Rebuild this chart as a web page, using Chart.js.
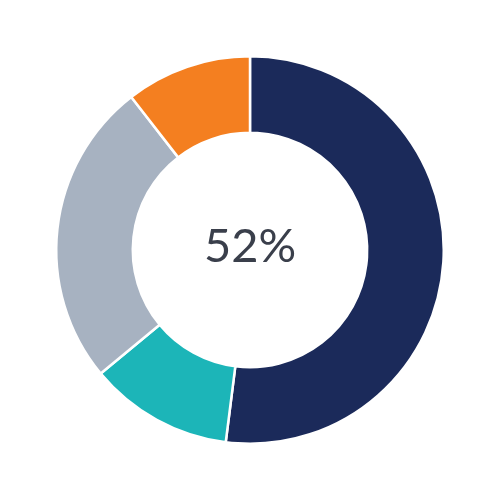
<!DOCTYPE html>
<html><head><meta charset="utf-8">
<script src="https://cdn.jsdelivr.net/npm/chart.js@4"></script>
<style>html,body{margin:0;padding:0;background:#fff}#wrap{position:relative;width:500px;height:500px}
#center{position:absolute;left:0;top:-6px;width:500px;height:500px;display:flex;align-items:center;justify-content:center;font-family:Lato,sans-serif;font-size:47px;color:#3a3f4b;pointer-events:none}</style>
</head><body>
<div id="wrap"><canvas id="c" width="500" height="500"></canvas><div id="center"></div></div>
<script>
const labels = ["A", "B", "C", "D"];
const values = [52, 12, 25.5, 10.5];
const colors = ["#1b2a5a", "#1cb5b8", "#a7b2c1", "#f47f20"];
const centerLabel = "52%";
document.getElementById('center').textContent = centerLabel;
new Chart(document.getElementById('c'), {
  type: 'doughnut',
  data: { labels: labels, datasets: [{ data: values, backgroundColor: colors, borderColor: '#ffffff', borderWidth: 2.5 }] },
  options: {
    responsive: false, animation: false, cutout: '60.5%',
    layout: { padding: 55 },
    plugins: { legend: { display: false }, tooltip: { enabled: false } }
  }
});
</script>
</body></html>
